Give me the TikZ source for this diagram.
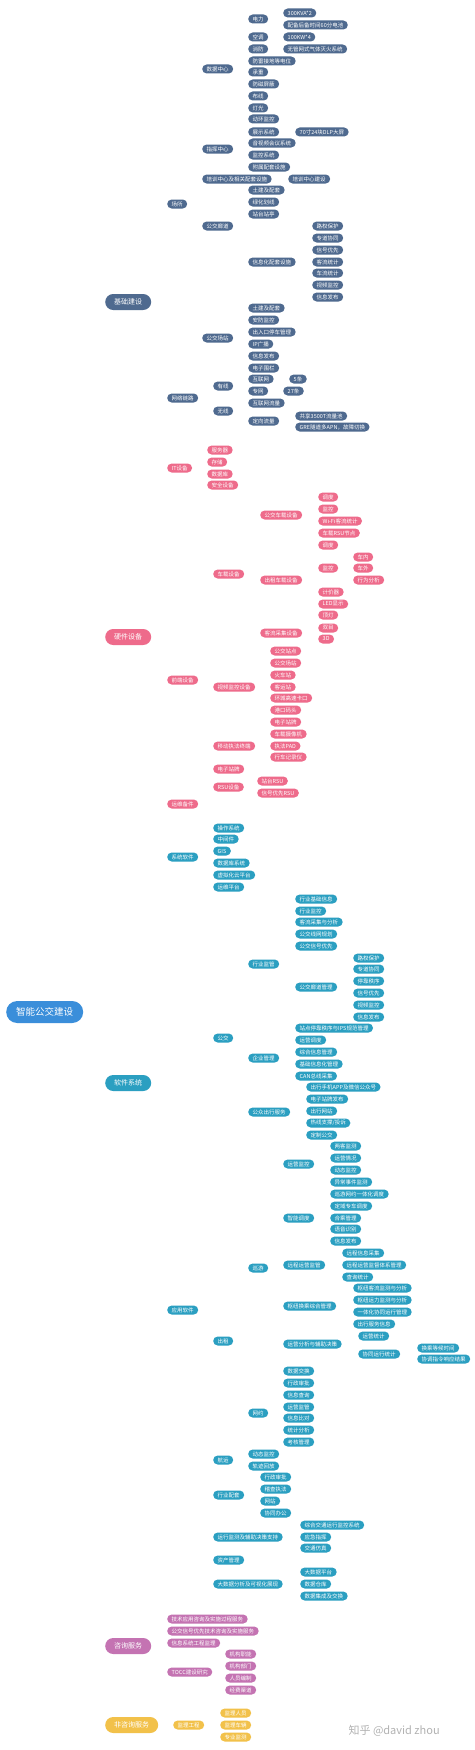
\documentclass[tikz,border=0pt]{standalone}
\usepackage{fontspec}
\setmainfont{Noto Sans CJK SC}
\usetikzlibrary{backgrounds}
\definecolor{rootblue}{HTML}{3A8EDA}
\definecolor{jcdark}{HTML}{4F6A8F}
\definecolor{jcline}{HTML}{B3BDCA}
\definecolor{yjpink}{HTML}{EE6B8B}
\definecolor{yjline}{HTML}{F0B3C2}
\definecolor{rjteal}{HTML}{2B9FC1}
\definecolor{rjline}{HTML}{98CFE0}
\definecolor{zxpurple}{HTML}{C473B2}
\definecolor{zxline}{HTML}{DAAAD0}
\definecolor{fzyellow}{HTML}{F2C14A}
\definecolor{fzline}{HTML}{F5D990}

% curved link from parent to child, kept behind the nodes
\newcommand{\lnk}[3]{%
  \begin{pgfonlayer}{background}
    \draw[#1] (#2.east) .. controls +(7,0) and +(-7,0) .. (#3.west);
  \end{pgfonlayer}}

\begin{document}
\begin{tikzpicture}[x=1pt, y=-1pt,
    nd/.style={anchor=west, rounded corners=4.5pt, minimum height=9pt,
               inner xsep=4.5pt, inner ysep=0pt, text=white,
               font=\fontsize{5.5}{6}\selectfont},
    big/.style={anchor=west, rounded corners=8pt, minimum height=16pt,
                inner xsep=9pt, text=white, font=\fontsize{7}{8}\selectfont},
    jc/.style={nd, fill=jcdark},
    yj/.style={nd, fill=yjpink},
    rj/.style={nd, fill=rjteal},
    zx/.style={nd, fill=zxpurple},
    fz/.style={nd, fill=fzyellow},
    jcl/.style={draw=jcline, line width=0.7pt},
    yjl/.style={draw=yjline, line width=0.7pt},
    rjl/.style={draw=rjline, line width=0.7pt},
    zxl/.style={draw=zxline, line width=0.7pt},
    fzl/.style={draw=fzline, line width=0.7pt},
    thk/.style={line width=1pt},
    trunk/.style={line width=1.3pt}
  ]
  \useasboundingbox[fill=white] (0,0) rectangle (474,1750);

  % root
  \node[anchor=west, fill=rootblue, rounded corners=11pt, minimum height=22pt,
        inner xsep=10pt, text=white, font=\fontsize{9.5}{11}\selectfont]
        (root) at (6,1012) {智能公交建设};

  % ---------------- 基础建设 ----------------
  \node[big, fill=jcdark] (jc) at (105,302) {基础建设};
  \node[jc] (cs) at (167,204) {场所};          \lnk{jcl,thk}{jc}{cs}
  \node[jc] (wl) at (167,398) {网络链路};      \lnk{jcl,thk}{jc}{wl}
  \node[jc] (sjzx) at (202,69) {数据中心};     \lnk{jcl}{cs}{sjzx}
  \node[jc] (zhzx) at (202,149) {指挥中心};    \lnk{jcl}{cs}{zhzx}
  \node[jc] (pxzx) at (202,179) {培训中心及相关配套设施}; \lnk{jcl}{cs}{pxzx}
  \node[jc] (gjld) at (202,226) {公交廊道};    \lnk{jcl}{cs}{gjld}
  \node[jc] (gjcz) at (202,338) {公交场站};    \lnk{jcl}{cs}{gjcz}

  \foreach \t/\y [count=\i] in {电力/19, 空调/37, 消防/49, 防雷接地等电位/61,
      承重/72, 防磁屏蔽/84, 布线/96, 灯光/108, 动环监控/119}
    {\node[jc] (dc\i) at (248,\y) {\t}; \lnk{jcl}{sjzx}{dc\i}}
  \node[jc] (dl1) at (283,13) {300KVA*2};             \lnk{jcl}{dc1}{dl1}
  \node[jc] (dl2) at (283,25) {配备后备时间60分电池}; \lnk{jcl}{dc1}{dl2}
  \node[jc] (kt1) at (283,37) {100KW*4};              \lnk{jcl}{dc2}{kt1}
  \node[jc] (xf1) at (283,49) {无管网式气体灭火系统}; \lnk{jcl}{dc3}{xf1}

  \foreach \t/\y [count=\i] in {展示系统/132, 音视频会议系统/143,
      监控系统/155, 附属配套设施/167}
    {\node[jc] (zh\i) at (248,\y) {\t}; \lnk{jcl}{zhzx}{zh\i}}
  \node[jc] (dlp) at (295,132) {70寸24块DLP大屏};   \lnk{jcl}{zh1}{dlp}
  \node[jc] (pxjs) at (288,179) {培训中心建设};     \lnk{jcl}{pxzx}{pxjs}

  \foreach \t/\y [count=\i] in {土建及配套/190, 绿化划线/202, 站台站亭/214,
      信息化配套设施/262}
    {\node[jc] (ld\i) at (248,\y) {\t}; \lnk{jcl}{gjld}{ld\i}}
  \foreach \t/\y [count=\i] in {路权保护/226, 专道协同/238, 信号优先/250,
      客流统计/262, 车流统计/273, 视频监控/285, 信息发布/297}
    {\node[jc] (xx\i) at (312,\y) {\t}; \lnk{jcl}{ld4}{xx\i}}

  \foreach \t/\y [count=\i] in {土建及配套/308, 安防监控/320, 出入口停车管理/332,
      IP广播/344, 信息发布/356, 电子围栏/368}
    {\node[jc] (cz\i) at (248,\y) {\t}; \lnk{jcl}{gjcz}{cz\i}}

  \node[jc] (yx) at (213,386) {有线};          \lnk{jcl}{wl}{yx}
  \node[jc] (wx) at (213,411) {无线};          \lnk{jcl}{wl}{wx}
  \node[jc] (hlw) at (248,379) {互联网};       \lnk{jcl}{yx}{hlw}
  \node[jc] (zw) at (248,391) {专网};          \lnk{jcl}{yx}{zw}
  \node[jc] (hlw1) at (289,379) {5条};         \lnk{jcl}{hlw}{hlw1}
  \node[jc] (zw1) at (283,391) {27条};         \lnk{jcl}{zw}{zw1}
  \node[jc] (hll) at (248,403) {互联网流量};   \lnk{jcl}{wx}{hll}
  \node[jc] (dxl) at (248,421) {定向流量};     \lnk{jcl}{wx}{dxl}
  \node[jc] (dx1) at (295,416) {共享3500T流量池};        \lnk{jcl}{dxl}{dx1}
  \node[jc] (dx2) at (295,427) {GRE隧道多APN，故障切换}; \lnk{jcl}{dxl}{dx2}

  % ---------------- 硬件设备 ----------------
  \node[big, fill=yjpink] (yj) at (105,637) {硬件设备};
  \node[yj] (it) at (167,468) {IT设备};        \lnk{yjl,thk}{yj}{it}
  \node[yj] (qd) at (167,680) {前端设备};      \lnk{yjl,thk}{yj}{qd}
  \node[yj] (bj) at (167,804) {运维备件};      \lnk{yjl,thk}{yj}{bj}
  \foreach \t/\y [count=\i] in {服务器/450, 存储/462, 数据库/474, 安全设备/485}
    {\node[yj] (it\i) at (207,\y) {\t}; \lnk{yjl}{it}{it\i}}

  \foreach \t/\y [count=\i] in {车载设备/574, 视频监控设备/687, 移动执法终端/746,
      电子站牌/769, RSU设备/787}
    {\node[yj] (qd\i) at (213,\y) {\t}; \lnk{yjl}{qd}{qd\i}}
  \node[yj] (gjcs) at (260,515) {公交车载设备}; \lnk{yjl}{qd1}{gjcs}
  \node[yj] (czcs) at (260,580) {出租车载设备}; \lnk{yjl}{qd1}{czcs}
  \node[yj] (klcj) at (260,633) {客流采集设备}; \lnk{yjl}{qd1}{klcj}
  \foreach \t/\y [count=\i] in {调度/497, 监控/509, Wi-Fi客流统计/521, 车载RSU节点/533}
    {\node[yj] (gc\i) at (318,\y) {\t}; \lnk{yjl}{gjcs}{gc\i}}
  \foreach \t/\y [count=\i] in {调度/545, 监控/568, 计价器/592, LED显示/604, 顶灯/615}
    {\node[yj] (cc\i) at (318,\y) {\t}; \lnk{yjl}{czcs}{cc\i}}
  \foreach \t/\y [count=\i] in {车内/557, 车外/568, 行为分析/580}
    {\node[yj] (jk\i) at (353,\y) {\t}; \lnk{yjl}{cc2}{jk\i}}
  \node[yj] (kl1) at (318,628) {双目};          \lnk{yjl}{klcj}{kl1}
  \node[yj] (kl2) at (318,639) {3D};            \lnk{yjl}{klcj}{kl2}
  \foreach \t/\y [count=\i] in {公交站点/651, 公交场站/663, 火车站/675, 客运站/687,
      环城高速卡口/698, 港口码头/710, 电子站牌/722}
    {\node[yj] (sp\i) at (270,\y) {\t}; \lnk{yjl}{qd2}{sp\i}}
  \foreach \t/\y [count=\i] in {车载摄像机/734, 执法PAD/746, 行车记录仪/757}
    {\node[yj] (zf\i) at (270,\y) {\t}; \lnk{yjl}{qd3}{zf\i}}
  \node[yj] (rsu1) at (257,781) {站台RSU};      \lnk{yjl}{qd5}{rsu1}
  \node[yj] (rsu2) at (257,793) {信号优先RSU};  \lnk{yjl}{qd5}{rsu2}

  % ---------------- 软件系统 ----------------
  \node[big, fill=rjteal] (rj) at (105,1083) {软件系统};
  \node[rj] (xtrj) at (167,857) {系统软件};    \lnk{rjl,thk}{rj}{xtrj}
  \node[rj] (yyrj) at (167,1310) {应用软件};   \lnk{rjl,thk}{rj}{yyrj}
  \foreach \t/\y [count=\i] in {操作系统/828, 中间件/839, GIS/851, 数据库系统/863,
      虚拟化云平台/875, 运维平台/887}
    {\node[rj] (xt\i) at (213,\y) {\t}; \lnk{rjl}{xtrj}{xt\i}}

  \foreach \t/\y [count=\i] in {公交/1038, 出租/1341, 航运/1460, 行业配套/1495,
      运行监测及辅助决策支持/1537, 资产管理/1560, 大数据分析及可视化展现/1584}
    {\node[rj] (yy\i) at (213,\y) {\t}; \lnk{rjl}{yyrj}{yy\i}}

  % 公交
  \node[rj] (hyjg) at (248,964) {行业监管};    \lnk{rjl}{yy1}{hyjg}
  \node[rj] (qygl) at (248,1058) {企业管理};   \lnk{rjl}{yy1}{qygl}
  \node[rj] (gzcx) at (248,1112) {公众出行服务}; \lnk{rjl}{yy1}{gzcx}
  \foreach \t/\y [count=\i] in {行业基础信息/899, 行业监控/911, 客流采集与分析/922,
      公交线网规划/934, 公交信号优先/946, 公交廊道管理/987,
      站点停靠秩序与IPS规范管理/1028}
    {\node[rj] (hy\i) at (295,\y) {\t}; \lnk{rjl}{hyjg}{hy\i}}
  \foreach \t/\y [count=\i] in {路权保护/958, 专道协同/969, 停靠秩序/981,
      信号优先/993, 视频监控/1005, 信息发布/1017}
    {\node[rj] (lg\i) at (353,\y) {\t}; \lnk{rjl}{hy6}{lg\i}}
  \foreach \t/\y [count=\i] in {运营调度/1040, 综合信息管理/1052,
      基础信息化管理/1064, CAN总线采集/1076}
    {\node[rj] (qy\i) at (295,\y) {\t}; \lnk{rjl}{qygl}{qy\i}}
  \node[rj] (gz1) at (306,1087) {出行手机APP及微信公众号}; \lnk{rjl}{gzcx}{gz1}
  \node[rj] (gz2) at (306,1099) {电子站牌发布}; \lnk{rjl}{gzcx}{gz2}
  \node[rj] (gz3) at (306,1111) {出行网站};     \lnk{rjl}{gzcx}{gz3}
  \node[rj] (gz4) at (306,1123) {热线支撑/投诉}; \lnk{rjl}{gzcx}{gz4}
  \node[rj] (gz5) at (306,1135) {定制公交};     \lnk{rjl}{gzcx}{gz5}

  % 出租
  \node[rj] (xy) at (248,1268) {巡游};         \lnk{rjl}{yy2}{xy}
  \node[rj] (wy) at (248,1413) {网约};         \lnk{rjl}{yy2}{wy}
  \foreach \t/\y [count=\i] in {运营监控/1164, 智能调度/1218, 远程运营监管/1265,
      枢纽换乘综合管理/1306, 运营分析与辅助决策/1344, 数据交换/1371}
    {\node[rj] (xy\i) at (283,\y) {\t}; \lnk{rjl}{xy}{xy\i}}
  \foreach \t/\y [count=\i] in {两客监测/1146, 运营情况/1158, 动态监控/1170,
      异常事件监测/1182}
    {\node[rj] (yj\i) at (330,\y) {\t}; \lnk{rjl}{xy1}{yj\i}}
  \foreach \t/\y [count=\i] in {巡游网约一体化调度/1194, 定域专车调度/1206,
      合乘管理/1218, 语音识别/1229, 信息发布/1241}
    {\node[rj] (zn\i) at (330,\y) {\t}; \lnk{rjl}{xy2}{zn\i}}
  \foreach \t/\y [count=\i] in {远程信息采集/1253, 远程运营监督体系管理/1265,
      查询统计/1277}
    {\node[rj] (yc\i) at (342,\y) {\t}; \lnk{rjl}{xy3}{yc\i}}
  \foreach \t/\y [count=\i] in {枢纽客流监测与分析/1288, 枢纽运力监测与分析/1300,
      一体化协同运行管理/1312, 出行服务信息/1324}
    {\node[rj] (sn\i) at (353,\y) {\t}; \lnk{rjl}{xy4}{sn\i}}
  \node[rj] (fx1) at (358,1336) {运营统计};     \lnk{rjl}{xy5}{fx1}
  \node[rj] (fx2) at (358,1354) {协同运行统计}; \lnk{rjl}{xy5}{fx2}
  \node[rj] (xt1) at (417,1348) {换乘等候时间}; \lnk{rjl}{fx2}{xt1}
  \node[rj] (xt2) at (417,1359) {协调指令响应结果}; \lnk{rjl}{fx2}{xt2}
  \foreach \t/\y [count=\i] in {行政审批/1383, 信息查询/1395, 运营监管/1407,
      信息比对/1418, 统计分析/1430, 考核管理/1442}
    {\node[rj] (wy\i) at (283,\y) {\t}; \lnk{rjl}{wy}{wy\i}}

  % 航运 / 行业配套 / 决策 / 大数据
  \node[rj] (hy1x) at (248,1454) {动态监控};    \lnk{rjl}{yy3}{hy1x}
  \node[rj] (hy2x) at (248,1466) {轨迹回放};    \lnk{rjl}{yy3}{hy2x}
  \foreach \t/\y [count=\i] in {行政审批/1477, 稽查执法/1489, 网站/1501, 协同办公/1513}
    {\node[rj] (pt\i) at (260,\y) {\t}; \lnk{rjl}{yy4}{pt\i}}
  \foreach \t/\y [count=\i] in {综合交通运行监控系统/1525, 应急指挥/1537, 交通仿真/1548}
    {\node[rj] (jc\i) at (300,\y) {\t}; \lnk{rjl}{yy5}{jc\i}}
  \foreach \t/\y [count=\i] in {大数据平台/1572, 数据仓库/1584, 数据集成及交换/1596}
    {\node[rj] (ds\i) at (300,\y) {\t}; \lnk{rjl}{yy7}{ds\i}}

  % ---------------- 咨询服务 ----------------
  \node[big, fill=zxpurple] (zx) at (105,1646) {咨询服务};
  \foreach \t/\y [count=\i] in {技术应用咨询及实施过程服务/1619,
      公交信号优先技术咨询及实施服务/1631, 信息系统工程监理/1643, TOCC建设研究/1672}
    {\node[zx] (zx\i) at (167,\y) {\t}; \lnk{zxl,thk}{zx}{zx\i}}
  \foreach \t/\y [count=\i] in {机构职能/1654, 机构部门/1666, 人员编制/1678, 经费渠道/1690}
    {\node[zx] (tc\i) at (225,\y) {\t}; \lnk{zxl}{zx4}{tc\i}}

  % ---------------- 非咨询服务 ----------------
  \node[big, fill=fzyellow] (fz) at (105,1725) {非咨询服务};
  \node[fz] (jlgc) at (173,1725) {监理工程};    \lnk{fzl,thk}{fz}{jlgc}
  \foreach \t/\y [count=\i] in {监理人员/1713, 监理车辆/1725, 专业监测/1737}
    {\node[fz] (jl\i) at (220,\y) {\t}; \lnk{fzl}{jlgc}{jl\i}}

  % trunk lines from the root
  \begin{pgfonlayer}{background}
    \draw[trunk, draw=jcdark] ([xshift=-16pt]root.east) .. controls +(6,0) and +(-30,0) .. (jc.west);
    \draw[trunk, draw=yjpink] ([xshift=-14pt]root.east) .. controls +(6,0) and +(-30,0) .. (yj.west);
    \draw[trunk, draw=rjteal] ([xshift=-12pt]root.east) .. controls +(6,0) and +(-20,0) .. (rj.west);
    \draw[trunk, draw=zxpurple] ([xshift=-14pt]root.east) .. controls +(6,0) and +(-30,0) .. (zx.west);
    \draw[trunk, draw=fzyellow] ([xshift=-16pt]root.east) .. controls +(6,0) and +(-30,0) .. (fz.west);
  \end{pgfonlayer}

  \node[anchor=west, text=black!30, font=\fontsize{11}{12}\selectfont]
        (wm) at (345,1731) {知乎 @david zhou};
\end{tikzpicture}
\end{document}
